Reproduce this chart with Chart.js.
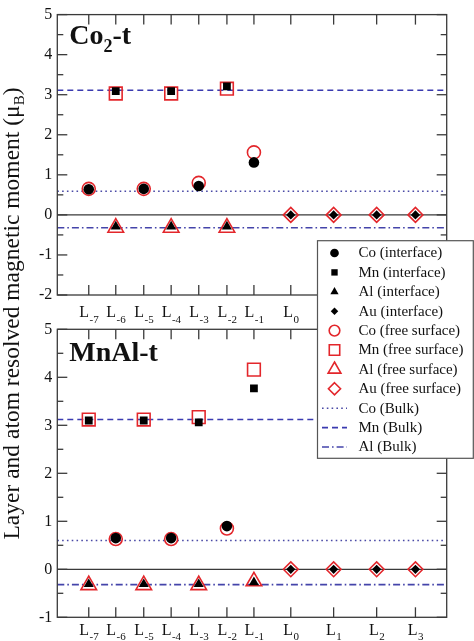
<!DOCTYPE html>
<html><head><meta charset="utf-8">
<script src="https://cdn.jsdelivr.net/npm/chart.js@4.4.0/dist/chart.umd.min.js"></script>
<style>
html,body{margin:0;padding:0;background:#fff;width:474px;height:641px;overflow:hidden}
#w1{position:absolute;left:0;top:0;width:474px;height:330px}
#w2{position:absolute;left:0;top:0;width:474px;height:641px}
</style></head><body>
<div id="w1"><canvas id="c1"></canvas></div>
<div id="w2"><canvas id="c2"></canvas></div>
<script>
// ---------- data ----------
const layerLabels = ['-7','-6','-5','-4','-3','-2','-1','0','1','2','3'];
const layerPos    = [1.63, 3.03, 4.48, 5.90, 7.33, 8.79, 10.19, 12.10, 14.32, 16.55, 18.56];
const xRange = [0, 20.18];

const seriesNames = ['Co (interface)','Mn (interface)','Al (interface)','Au (interface)',
                     'Co (free surface)','Mn (free surface)','Al (free surface)','Au (free surface)'];
const bulkNames = ['Co (Bulk)','Mn (Bulk)','Al (Bulk)'];

// Co2-t panel
const co2CoInt  = [0.64, null, 0.65, null, 0.72, null, 1.31, null, null, null, null];
const co2MnInt  = [null, 3.09, null, 3.09, null, 3.21, null, null, null, null, null];
const co2AlInt  = [null, -0.29, null, -0.29, null, -0.29, null, null, null, null, null];
const co2AuInt  = [null, null, null, null, null, null, null, 0, 0, 0, 0];
const co2CoFree = [0.65, null, 0.65, null, 0.80, null, 1.56, null, null, null, null];
const co2MnFree = [null, 3.03, null, 3.03, null, 3.15, null, null, null, null, null];
const co2AlFree = [null, -0.32, null, -0.32, null, -0.32, null, null, null, null, null];
const co2AuFree = [null, null, null, null, null, null, null, 0, 0, 0, 0];
const co2Bulk   = [0.59, 3.11, -0.32];

// MnAl-t panel
const mnalCoInt  = [null, 0.65, null, 0.65, null, 0.90, null, null, null, null, null];
const mnalMnInt  = [3.10, null, 3.10, null, 3.06, null, 3.77, null, null, null, null];
const mnalAlInt  = [-0.31, null, -0.31, null, -0.31, null, -0.27, null, null, null, null];
const mnalAuInt  = [null, null, null, null, null, null, null, 0, 0, 0, 0];
const mnalCoFree = [null, 0.63, null, 0.63, null, 0.85, null, null, null, null, null];
const mnalMnFree = [3.12, null, 3.12, null, 3.17, null, 4.16, null, null, null, null];
const mnalAlFree = [-0.33, null, -0.33, null, -0.33, null, -0.25, null, null, null, null];
const mnalAuFree = [null, null, null, null, null, null, null, 0, 0, 0, 0];
const mnalBulk   = [0.60, 3.12, -0.32];

const yTitle = 'Layer and atom resolved magnetic moment (\u03bc';
const yTitleSub = 'B';
const yTitleEnd = ')';

// ---------- styles ----------
const SERIF = "'Liberation Serif','Times New Roman',serif";
const RED = '#e3262b';
const markerStyles = [
  {pointStyle:'circle',   r:5.3, fill:'#000', stroke:'#000', bw:0},
  {pointStyle:'rect',     r:5.5, fill:'#000', stroke:'#000', bw:0},
  {pointStyle:'triangle', r:5.8, fill:'#000', stroke:'#000', bw:0},
  {pointStyle:'rectRot',  r:4.6, fill:'#000', stroke:'#000', bw:0},
  {pointStyle:'circle',   r:6.5, fill:'rgba(0,0,0,0)', stroke:RED, bw:1.6},
  {pointStyle:'rect',     r:9.0, fill:'rgba(0,0,0,0)', stroke:RED, bw:1.6},
  {pointStyle:'triangle', r:9.0, fill:'rgba(0,0,0,0)', stroke:RED, bw:1.6},
  {pointStyle:'rectRot',  r:7.4, fill:'rgba(0,0,0,0)', stroke:RED, bw:1.6}
];
const bulkStyles = [
  {color:'#4a4aa6', dash:[1.6,3.2], w:1.5},
  {color:'#3b3bb0', dash:[6,4], w:1.6},
  {color:'#4444aa', dash:[7,3,1.6,3], w:1.6}
];

function pts(arr){ return arr.map((v,i)=> v==null?null:{x:layerPos[i], y:v}).filter(Boolean); }

function buildDatasets(series, bulk){
  const ds = series.map((arr,i)=>{
    const s = markerStyles[i];
    return {label:seriesNames[i], data:pts(arr), showLine:false,
      pointStyle:s.pointStyle, pointRadius:s.r, pointHoverRadius:s.r,
      pointBackgroundColor:s.fill, pointBorderColor:s.stroke, pointBorderWidth:s.bw,
      backgroundColor:s.fill, borderColor:s.stroke};
  });
  bulk.forEach((v,i)=>{
    const s = bulkStyles[i];
    ds.push({label:bulkNames[i], data:[{x:xRange[0],y:v},{x:xRange[1],y:v}], showLine:true,
      pointRadius:0, borderColor:s.color, borderWidth:s.w, borderDash:s.dash, fill:false});
  });
  return ds;
}

function line(ctx,x1,y1,x2,y2){ ctx.beginPath(); ctx.moveTo(x1,y1); ctx.lineTo(x2,y2); ctx.stroke(); }

function drawMarker(ctx, style, x, y, r){
  ctx.beginPath();
  if(style==='circle'){ ctx.arc(x,y,r,0,Math.PI*2); }
  else if(style==='rect'){ const s=r/Math.SQRT2; ctx.rect(x-s,y-s,2*s,2*s); }
  else if(style==='rectRot'){ ctx.moveTo(x,y-r); ctx.lineTo(x+r,y); ctx.lineTo(x,y+r); ctx.lineTo(x-r,y); ctx.closePath(); }
  else if(style==='triangle'){
    let a=0; ctx.moveTo(x+Math.sin(a)*r, y-Math.cos(a)*r);
    a+=2*Math.PI/3; ctx.lineTo(x+Math.sin(a)*r, y-Math.cos(a)*r);
    a+=2*Math.PI/3; ctx.lineTo(x+Math.sin(a)*r, y-Math.cos(a)*r); ctx.closePath();
  }
}

const deco = {
  id:'deco',
  beforeDatasetsDraw(chart){
    const {ctx, chartArea:a, scales:{y}} = chart;
    ctx.save(); ctx.strokeStyle='#3a3a3a'; ctx.lineWidth=1.2;
    const y0=y.getPixelForValue(0); line(ctx,a.left,y0,a.right,y0);
    ctx.restore();
  },
  afterDatasetsDraw(chart, args, opts){
    const {ctx, chartArea:a, scales:{x,y}} = chart;
    ctx.save(); ctx.strokeStyle='#3a3a3a'; ctx.lineWidth=1.3;
    for(let v=Math.ceil(y.min*2)/2; v<=y.max+1e-9; v+=0.5){
      const py=y.getPixelForValue(v);
      const L = Math.abs(v-Math.round(v))<1e-6 ? 10 : 6;
      line(ctx,a.left,py,a.left+L,py); line(ctx,a.right,py,a.right-L,py);
    }
    layerPos.forEach(p=>{ const px=x.getPixelForValue(p);
      line(ctx,px,a.bottom,px,a.bottom-10); line(ctx,px,a.top,px,a.top+10); });
    ctx.strokeRect(a.left,a.top,a.right-a.left,a.bottom-a.top);
    ctx.restore();
    // layer labels
    ctx.save(); ctx.fillStyle='#111'; ctx.textBaseline='alphabetic';
    const base = a.bottom + opts.labelOffset;
    layerPos.forEach((p,i)=>{
      const px=x.getPixelForValue(p);
      ctx.font='16px '+SERIF; const wL=ctx.measureText('L').width;
      ctx.font='11px '+SERIF; const wS=ctx.measureText(layerLabels[i]).width;
      const x0=px-(wL+wS)/2;
      ctx.font='16px '+SERIF; ctx.fillText('L',x0,base);
      ctx.font='11px '+SERIF; ctx.fillText(layerLabels[i],x0+wL+0.5,base+5.5);
    });
    // panel title
    let tx=a.left+12; const tb=a.top+opts.titleOffset;
    opts.title.forEach(part=>{
      ctx.font = 'bold '+(part.sub?18:28)+'px '+SERIF;
      ctx.fillText(part.t, tx, tb+(part.sub?8:0));
      tx += ctx.measureText(part.t).width;
    });
    ctx.restore();
  },
  afterDraw(chart, args, opts){
    if(!opts.legend) return;
    const ctx=chart.ctx;
    ctx.save();
    // y title
    ctx.translate(19, 313.5); ctx.rotate(-Math.PI/2);
    ctx.fillStyle='#111'; ctx.textBaseline='alphabetic';
    ctx.font='23.5px '+SERIF; const w1=ctx.measureText(yTitle).width; const w3=ctx.measureText(yTitleEnd).width;
    ctx.font='15px '+SERIF; const w2=ctx.measureText(yTitleSub).width;
    let sx=-(w1+w2+w3)/2;
    ctx.font='23.5px '+SERIF; ctx.fillText(yTitle,sx,0); sx+=w1;
    ctx.font='15px '+SERIF; ctx.fillText(yTitleSub,sx,5); sx+=w2;
    ctx.font='23.5px '+SERIF; ctx.fillText(yTitleEnd,sx,0);
    ctx.restore();
    // legend
    ctx.save();
    const L=317.5, T=240.7, R=473.3, B=458.3;
    ctx.fillStyle='#fff'; ctx.fillRect(L,T,R-L,B-T);
    ctx.strokeStyle='#555'; ctx.lineWidth=1.2; ctx.strokeRect(L,T,R-L,B-T);
    const rowY0=253, step=19.4, mx=334.5, textX=358.5;
    chart.data.datasets.forEach((d,i)=>{
      const cy=rowY0+i*step;
      if(d.showLine){
        ctx.strokeStyle=d.borderColor; ctx.lineWidth=d.borderWidth; ctx.setLineDash(d.borderDash);
        line(ctx,322,cy,347,cy); ctx.setLineDash([]);
      } else {
        const r=d.pointRadius*0.82;
        drawMarker(ctx,d.pointStyle,mx,cy,r);
        if(d.pointBorderWidth>0){ ctx.lineWidth=d.pointBorderWidth; ctx.strokeStyle=d.pointBorderColor; ctx.stroke(); }
        else { ctx.fillStyle=d.pointBackgroundColor; ctx.fill(); }
      }
      ctx.fillStyle='#111'; ctx.font='15px '+SERIF; ctx.textBaseline='middle';
      ctx.fillText(d.label,textX,cy+0.5);
    });
    ctx.restore();
  }
};

function makeChart(id, series, bulk, yMin, yMax, padTop, xH, opts){
  return new Chart(document.getElementById(id), {
    type:'scatter',
    data:{datasets:buildDatasets(series,bulk)},
    options:{
      animation:false, responsive:true, maintainAspectRatio:false,
      layout:{padding:{top:padTop,right:27.3,left:0,bottom:0}},
      plugins:{legend:{display:false}, tooltip:{enabled:false}, deco:opts},
      scales:{
        x:{type:'linear', min:xRange[0], max:xRange[1], grid:{display:false,drawTicks:false},
           border:{display:false}, ticks:{display:false}, afterFit(s){s.height=xH;}},
        y:{min:yMin, max:yMax, grid:{display:false,drawTicks:false}, border:{display:false},
           ticks:{stepSize:1, color:'#111', padding:5, font:{family:SERIF,size:16}},
           afterFit(s){s.width=57.3;}}
      }
    },
    plugins:[deco]
  });
}

makeChart('c1', [co2CoInt,co2MnInt,co2AlInt,co2AuInt,co2CoFree,co2MnFree,co2AlFree,co2AuFree], co2Bulk,
  -2, 5, 5.7, 35, {labelOffset:22, titleOffset:29, title:[{t:'Co'},{t:'2',sub:true},{t:'-t'}], legend:false});
makeChart('c2', [mnalCoInt,mnalMnInt,mnalAlInt,mnalAuInt,mnalCoFree,mnalMnFree,mnalAlFree,mnalAuFree], mnalBulk,
  -1, 5, 329.3, 23.7, {labelOffset:17.5, titleOffset:32, title:[{t:'MnAl-t'}], legend:true});
</script>
</body></html>
